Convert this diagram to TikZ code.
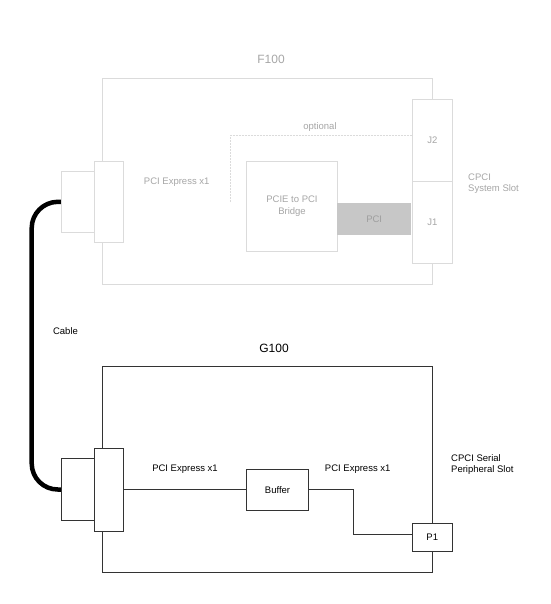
\documentclass[tikz,border=0pt]{standalone}
\usepackage{fontspec}
\setmainfont{Liberation Sans}
\begin{document}
\begin{tikzpicture}[x=1pt,y=-1pt,
  fline/.style={draw=black!14,line width=0.8pt},
  ftext/.style={text=black!35,font=\fontsize{9.5}{11.5}\selectfont,inner sep=0pt},
  gline/.style={draw=black!80,line width=0.9pt},
  gtext/.style={text=black,font=\fontsize{9.5}{11.5}\selectfont,inner sep=0pt},
  box/.style={rectangle,inner sep=0pt,fill=white},
  cable/.style={line width=4.5pt,black,rounded corners=26pt}
]
\useasboundingbox (0,0) rectangle (550,604);
% ---------- F100 ----------
\node[box,fline,minimum width=330pt,minimum height=206pt] (fboard) at (267,181) {};
\node[ftext,font=\fontsize{12}{14}\selectfont] (ftitle) at (271,59) {F100};
\node[box,fline,minimum width=33pt,minimum height=61.7pt] (fouter) at (77.8,201.8) {};
\node[box,fline,minimum width=29pt,minimum height=81.7pt] (finner) at (108.8,201.8) {};
\node[ftext] (fpcie) at (176.7,182) {PCI Express x1};
\node[box,fline,minimum width=90.6pt,minimum height=89.7pt,align=center,ftext] (bridge) at (292,206.2) {PCIE to PCI\\Bridge};
\node[rectangle,inner sep=0pt,fill=black!22,minimum width=73.7pt,minimum height=31.4pt,ftext,text=black!38] (pci) at (374.2,219) {PCI};
\node[box,fline,minimum width=40pt,minimum height=82pt,ftext] (j2) at (432.3,140.3) {J2};
\node[box,fline,minimum width=40pt,minimum height=81.7pt,ftext] (j1) at (432.3,222.2) {J1};
\node[ftext,align=left,anchor=west] (sysslot) at (468,183.5) {CPCI\\System Slot};
\coordinate (optstart) at (230.3,202);
\coordinate (optcorner) at (230.3,135.3);
\draw[black!14,line width=0.8pt,dash pattern=on 2pt off 1pt] (optstart) -- (optcorner) -- (optcorner -| j2.west);
\node[ftext] (optional) at (320,127) {optional};
% ---------- G100 ----------
\node[box,gline,minimum width=330pt,minimum height=206pt] (gboard) at (267,469) {};
\node[gtext,font=\fontsize{12}{14}\selectfont] (gtitle) at (274,348) {G100};
\node[box,gline,minimum width=32.7pt,minimum height=61.6pt] (gouter) at (77.7,489.5) {};
\node[box,gline,minimum width=29.3pt,minimum height=83pt] (ginner) at (108.7,489.8) {};
\node[box,gline,minimum width=61.6pt,minimum height=41pt,gtext] (buffer) at (277.5,489.8) {Buffer};
\node[box,gline,minimum width=40pt,minimum height=27.7pt,gtext] (p1) at (432.3,537.2) {P1};
\node[gtext] (gpcie1) at (185,469.3) {PCI Express x1};
\node[gtext] (gpcie2) at (357.7,469) {PCI Express x1};
\node[gtext,align=left,anchor=west] (perslot) at (451,464.5) {CPCI Serial\\Peripheral Slot};
\draw[gline] (ginner.east |- buffer.west) -- (buffer.west);
\coordinate (bend1) at (353.3,489.8);
\coordinate (bend2) at (353.3,534);
\draw[gline] (buffer.east) -- (bend1) -- (bend2) -- (bend2 -| p1.west);
% ---------- Cable ----------
\coordinate (ctop) at (31.7,202);
\coordinate (cbot) at (31.7,489.5);
\draw[cable] (fouter.west) -- (ctop) -- (cbot) -- (gouter.west);
\node[gtext] (cablelbl) at (65.5,331.5) {Cable};
\end{tikzpicture}
\end{document}
